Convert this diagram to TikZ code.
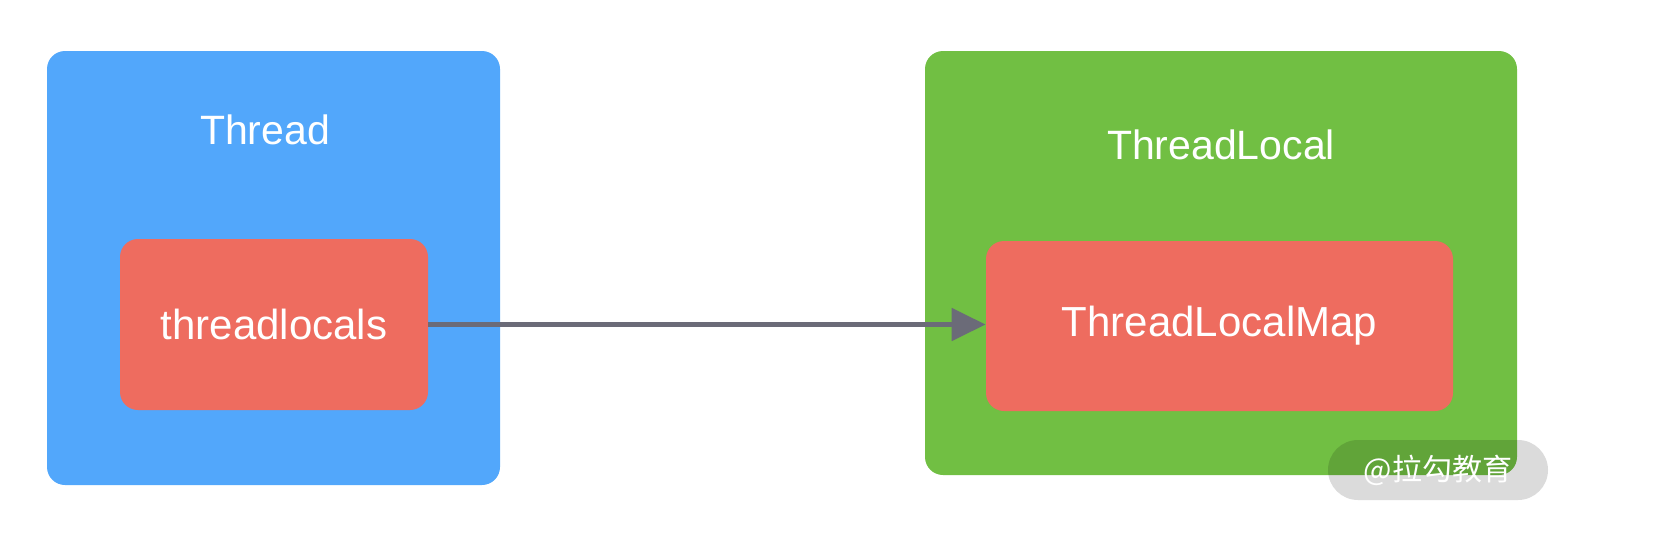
\documentclass[tikz,border=0pt]{standalone}
\usepackage{fontspec}
\setmainfont{Liberation Sans}
\newfontfamily\cjk{Noto Sans CJK SC}
\usetikzlibrary{arrows.meta}
\definecolor{threadblue}{HTML}{52A7FB}
\definecolor{localgreen}{HTML}{71BF43}
\definecolor{mapred}{HTML}{EE6C5F}
\definecolor{arrowgray}{HTML}{6B6B78}
\tikzset{
  outerbox/.style={draw=none,rounded corners=9pt,inner sep=0pt},
  innerbox/.style={draw=none,fill=mapred,rounded corners=9pt,inner sep=0pt,text=white,font=\fontsize{21}{25}\selectfont},
  title/.style={text=white,font=\fontsize{20.5}{24}\selectfont},
  link/.style={draw=arrowgray,line width=2.5pt,-{Triangle[length=17pt,width=16pt]}}
}
\begin{document}
\begin{tikzpicture}[x=0.5pt,y=-0.5pt]
\useasboundingbox (0,0) rectangle (1654,552);
% Thread side
\node[outerbox,fill=threadblue,minimum width=226.5pt,minimum height=217pt] (thread) at (273.5,268){};
\node[title] (threadlbl) at (265,130){Thread};
\node[innerbox,minimum width=154pt,minimum height=85.5pt] (tl) at (274,324.5){threadlocals};
% ThreadLocal side
\node[outerbox,fill=localgreen,minimum width=296pt,minimum height=212pt] (local) at (1221,263){};
\node[title] (locallbl) at (1221,145){ThreadLocal};
\node[innerbox,minimum width=233.5pt,minimum height=85pt] (tlm) at (1219.5,326){ThreadLocalMap};
\draw[link] (tl.east) -- (tl.east -| tlm.west);
% watermark
\node[draw=none,fill=black,fill opacity=0.14,text opacity=1,rounded corners=15pt,minimum width=110pt,minimum height=30pt,text=white,font=\cjk\fontsize{15}{18}\selectfont] (mark) at (1438,470){@拉勾教育};
\end{tikzpicture}
\end{document}
